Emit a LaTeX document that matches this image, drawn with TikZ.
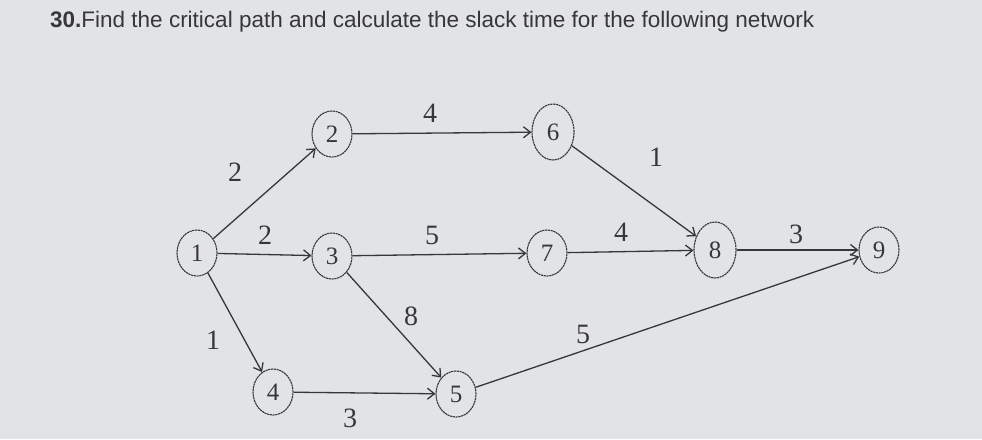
\documentclass[tikz,border=0pt]{standalone}
\usepackage{fontspec}
\setmainfont{Liberation Serif}
\newfontfamily\titlefont{Liberation Sans}
\usetikzlibrary{shapes.geometric,arrows.meta}
\definecolor{paper}{RGB}{226,227,231}
\definecolor{ink}{RGB}{55,55,58}
\begin{document}
\begin{tikzpicture}[x=1pt, y=-1pt,
		event/.style={ellipse, draw=ink, line width=1.1pt, dash pattern=on 2.2pt off 0.6pt,
			inner sep=0pt, minimum width=40pt, minimum height=46pt, font=\fontsize{25}{25}\selectfont, text=ink},
		tallevent/.style={event, minimum width=42pt, minimum height=56pt},
		act/.style={draw=ink, line width=1.3pt, -{Straight Barb[length=7pt,width=11pt]}},
		lbl/.style={font=\fontsize{28}{28}\selectfont, text=ink, inner sep=0pt}]
				\useasboundingbox[fill=paper] (0,0) rectangle (982,439);
				\node[anchor=west, inner sep=0pt, text=ink] (title) at (50,22)
					{\titlefont\fontsize{22.5}{22.5}\selectfont\textbf{30.}Find the critical path and calculate the slack time for the following network};
				% events
				\node[event] (e1) at (197,253) {1};
				\node[event] (e2) at (332,134) {2};
				\node[event] (e3) at (332,256) {3};
				\node[event] (e4) at (273,392) {4};
				\node[event] (e5) at (456,394) {5};
				\node[tallevent] (e6) at (553,132) {6};
				\node[event] (e7) at (547,253) {7};
				\node[tallevent] (e8) at (715,250) {8};
				\node[event] (e9) at (879,250) {9};
				% activities
				\draw[act] (e1) -- (e2);
				\draw[act] (e1) -- (e3);
				\draw[act] (e1) -- (e4);
				\draw[act] (e2) -- (e6);
				\draw[act] (e3) -- (e7);
				\draw[act] (e3) -- (e5);
				\draw[act] (e4) -- (e5);
				\draw[act] (e6) -- (e8);
				\draw[act] (e7) -- (e8);
				\draw[act] (e8) -- (e9);
				\draw[act] (e5) -- (e9);
				% durations
				\node[lbl] (d12) at (235,172) {2};
				\node[lbl] (d13) at (265,235) {2};
				\node[lbl] (d14) at (213,340) {1};
				\node[lbl] (d26) at (430,113) {4};
				\node[lbl] (d37) at (432,235) {5};
				\node[lbl] (d35) at (411,316) {8};
				\node[lbl] (d45) at (350,418) {3};
				\node[lbl] (d68) at (656,157) {1};
				\node[lbl] (d78) at (621,232) {4};
				\node[lbl] (d59) at (583,334) {5};
				\node[lbl] (d89) at (796,234) {3};
			\end{tikzpicture}
\end{document}
